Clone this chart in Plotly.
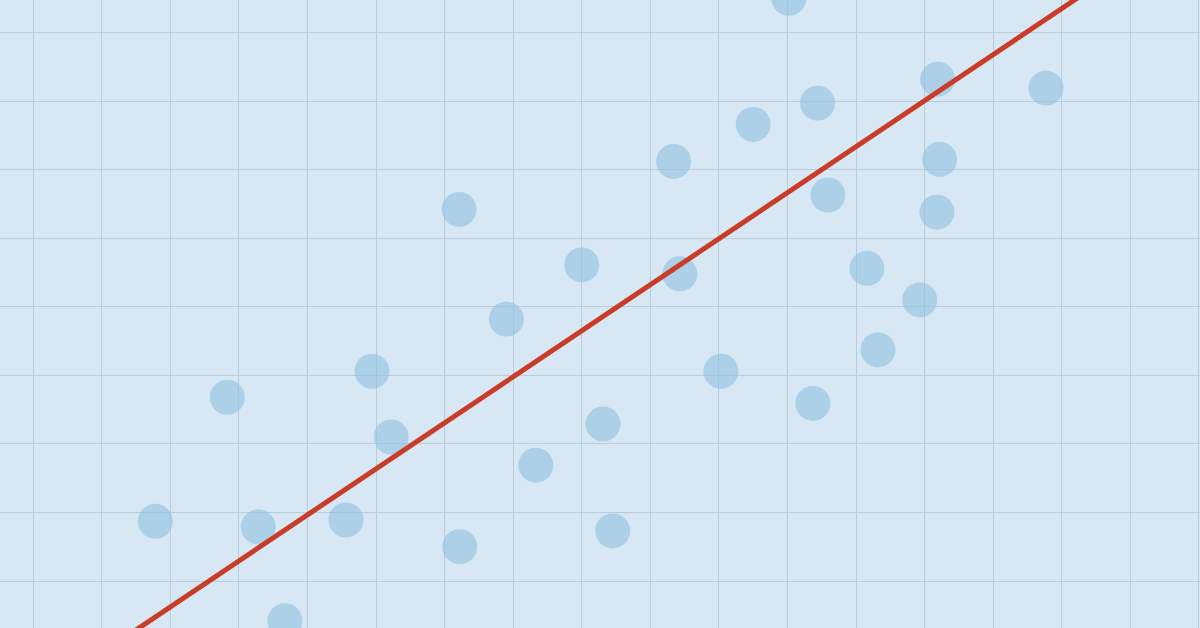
import plotly.graph_objects as go

# Datos (unidades de la grilla)
x_vals = [11.02, 13.19, 14.77, 11.44, 10.50, 9.34, 13.22, 11.59, 6.21, 13.18,
          8.00, 9.43, 12.16, 12.93, 6.90, 12.32, 4.94, 10.03, 2.83, 11.37,
          5.22, 8.31, 7.33, 1.78, 3.28, 4.56, 6.22, 8.45, 3.67]
y_vals = [8.50, 7.32, 7.19, 6.97, 6.66, 6.12, 6.15, 5.63, 5.42, 5.38,
          4.61, 4.48, 4.56, 4.10, 3.82, 3.37, 3.06, 3.06, 2.68, 2.59,
          2.10, 2.29, 1.69, 0.87, 0.79, 0.89, 0.50, 0.73, -0.58]

# Recta de ajuste (extremos)
fit_x = [0.0, 16.0]
fit_y = [-1.72, 9.02]

fig = go.Figure()

fig.add_trace(go.Scatter(
    x=x_vals, y=y_vals,
    mode="markers",
    marker=dict(size=35, color="rgba(150,196,226,0.68)", line=dict(width=0)),
    hoverinfo="skip"
))

fig.add_trace(go.Scatter(
    x=fit_x, y=fit_y,
    mode="lines",
    line=dict(color="#c93c28", width=5),
    hoverinfo="skip"
))

x0 = -33.3 / 68.56
y0 = -(628 - 581) / 68.56

fig.update_xaxes(range=[x0, x0 + 1200 / 68.56], dtick=1, tick0=0,
                 showgrid=True, gridcolor="#b9ccd9", gridwidth=1,
                 zeroline=False, showticklabels=False, showline=False)
fig.update_yaxes(range=[y0, y0 + 628 / 68.56], dtick=1, tick0=0,
                 showgrid=True, gridcolor="#b9ccd9", gridwidth=1,
                 zeroline=False, showticklabels=False, showline=False)

fig.update_layout(
    width=1200, height=628,
    margin=dict(l=0, r=0, t=0, b=0),
    plot_bgcolor="#d7e8f4",
    paper_bgcolor="#d7e8f4",
    showlegend=False
)

# quitar el margen del body para que el gráfico ocupe toda la ventana
fig.write_html("out.html",
               config={"displayModeBar": False},
               post_script="document.body.style.margin='0';document.body.style.overflow='hidden';")
